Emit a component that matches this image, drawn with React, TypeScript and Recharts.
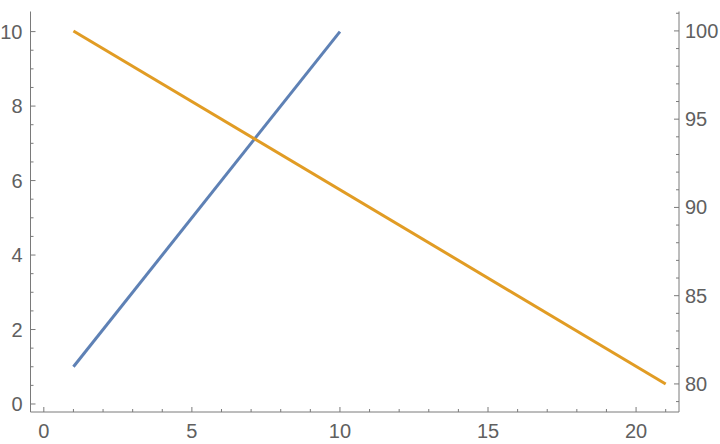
import React from "react";
import { LineChart, Line, XAxis, YAxis } from "recharts";

const blueX = [1, 10];
const blueY = [1, 10];
const orangeX = [1, 21];
const orangeY = [100, 80];

const xTicks = Array.from({ length: 22 }, (_, i) => i);
const xMajor = [0, 5, 10, 15, 20];
const leftTicks = Array.from({ length: 21 }, (_, i) => i * 0.5);
const leftMajor = [0, 2, 4, 6, 8, 10];
const rightTicks = Array.from({ length: 23 }, (_, i) => 79 + i);
const rightMajor = [80, 85, 90, 95, 100];

const blueData = blueX.map((x, i) => ({ x, y: blueY[i] }));
const orangeData = orangeX.map((x, i) => ({ x, y: orangeY[i] }));

const FRAME = "#7a7a7a";
const LABEL = "#606060";
const FONT = "'Liberation Sans', Arial, sans-serif";
const FS = 20;

const BottomTick = (props: any) => {
  const { x, y, payload } = props;
  const major = xMajor.includes(payload.value);
  return (
    <g>
      <line x1={x} y1={y} x2={x} y2={y - (major ? 5 : 3)} stroke={FRAME} />
      {major && (
        <text x={x} y={y + 26} textAnchor="middle" fill={LABEL} fontSize={FS} fontFamily={FONT}>
          {payload.value}
        </text>
      )}
    </g>
  );
};

const LeftTick = (props: any) => {
  const { x, y, payload } = props;
  const major = leftMajor.includes(payload.value);
  return (
    <g>
      <line x1={x} y1={y} x2={x + (major ? 5 : 3)} y2={y} stroke={FRAME} />
      {major && (
        <text x={x - 8} y={y} dy="0.35em" textAnchor="end" fill={LABEL} fontSize={FS} fontFamily={FONT}>
          {payload.value}
        </text>
      )}
    </g>
  );
};

const RightTick = (props: any) => {
  const { x, y, payload } = props;
  const major = rightMajor.includes(payload.value);
  return (
    <g>
      <line x1={x} y1={y} x2={x - (major ? 5 : 3)} y2={y} stroke={FRAME} />
      {major && (
        <text x={x + 6} y={y} dy="0.35em" textAnchor="start" fill={LABEL} fontSize={FS} fontFamily={FONT}>
          {payload.value}
        </text>
      )}
    </g>
  );
};

export default function App() {
  return (
    <div style={{ position: "absolute", left: 0, top: 0, background: "#fff" }}>
      <LineChart width={720} height={444} margin={{ top: 11.5, right: 0, bottom: 0, left: 0 }}>
        <XAxis
          xAxisId="bottom"
          dataKey="x"
          type="number"
          domain={[-0.45, 21.45]}
          allowDataOverflow
          ticks={xTicks}
          interval={0}
          tick={<BottomTick />}
          tickLine={false}
          tickSize={0}
          tickMargin={0}
          height={32}
          axisLine={{ stroke: FRAME }}
        />
        <XAxis
          xAxisId="top"
          orientation="top"
          type="number"
          domain={[0, 1]}
          height={0}
          tick={false}
          tickLine={false}
          axisLine={{ stroke: FRAME }}
        />
        <YAxis
          yAxisId="left"
          type="number"
          domain={[-0.215, 10.54]}
          allowDataOverflow
          ticks={leftTicks}
          interval={0}
          tick={<LeftTick />}
          tickLine={false}
          tickSize={0}
          tickMargin={0}
          width={30.5}
          axisLine={{ stroke: FRAME }}
        />
        <YAxis
          yAxisId="right"
          orientation="right"
          type="number"
          domain={[78.41, 101.1]}
          allowDataOverflow
          ticks={rightTicks}
          interval={0}
          tick={<RightTick />}
          tickLine={false}
          tickSize={0}
          tickMargin={0}
          width={41}
          axisLine={{ stroke: FRAME }}
        />
        <Line
          xAxisId="bottom"
          yAxisId="left"
          data={blueData}
          dataKey="y"
          stroke="#5E81B5"
          strokeWidth={3}
          dot={false}
          isAnimationActive={false}
        />
        <Line
          xAxisId="bottom"
          yAxisId="right"
          data={orangeData}
          dataKey="y"
          stroke="#E19C24"
          strokeWidth={3}
          dot={false}
          isAnimationActive={false}
        />
      </LineChart>
    </div>
  );
}
